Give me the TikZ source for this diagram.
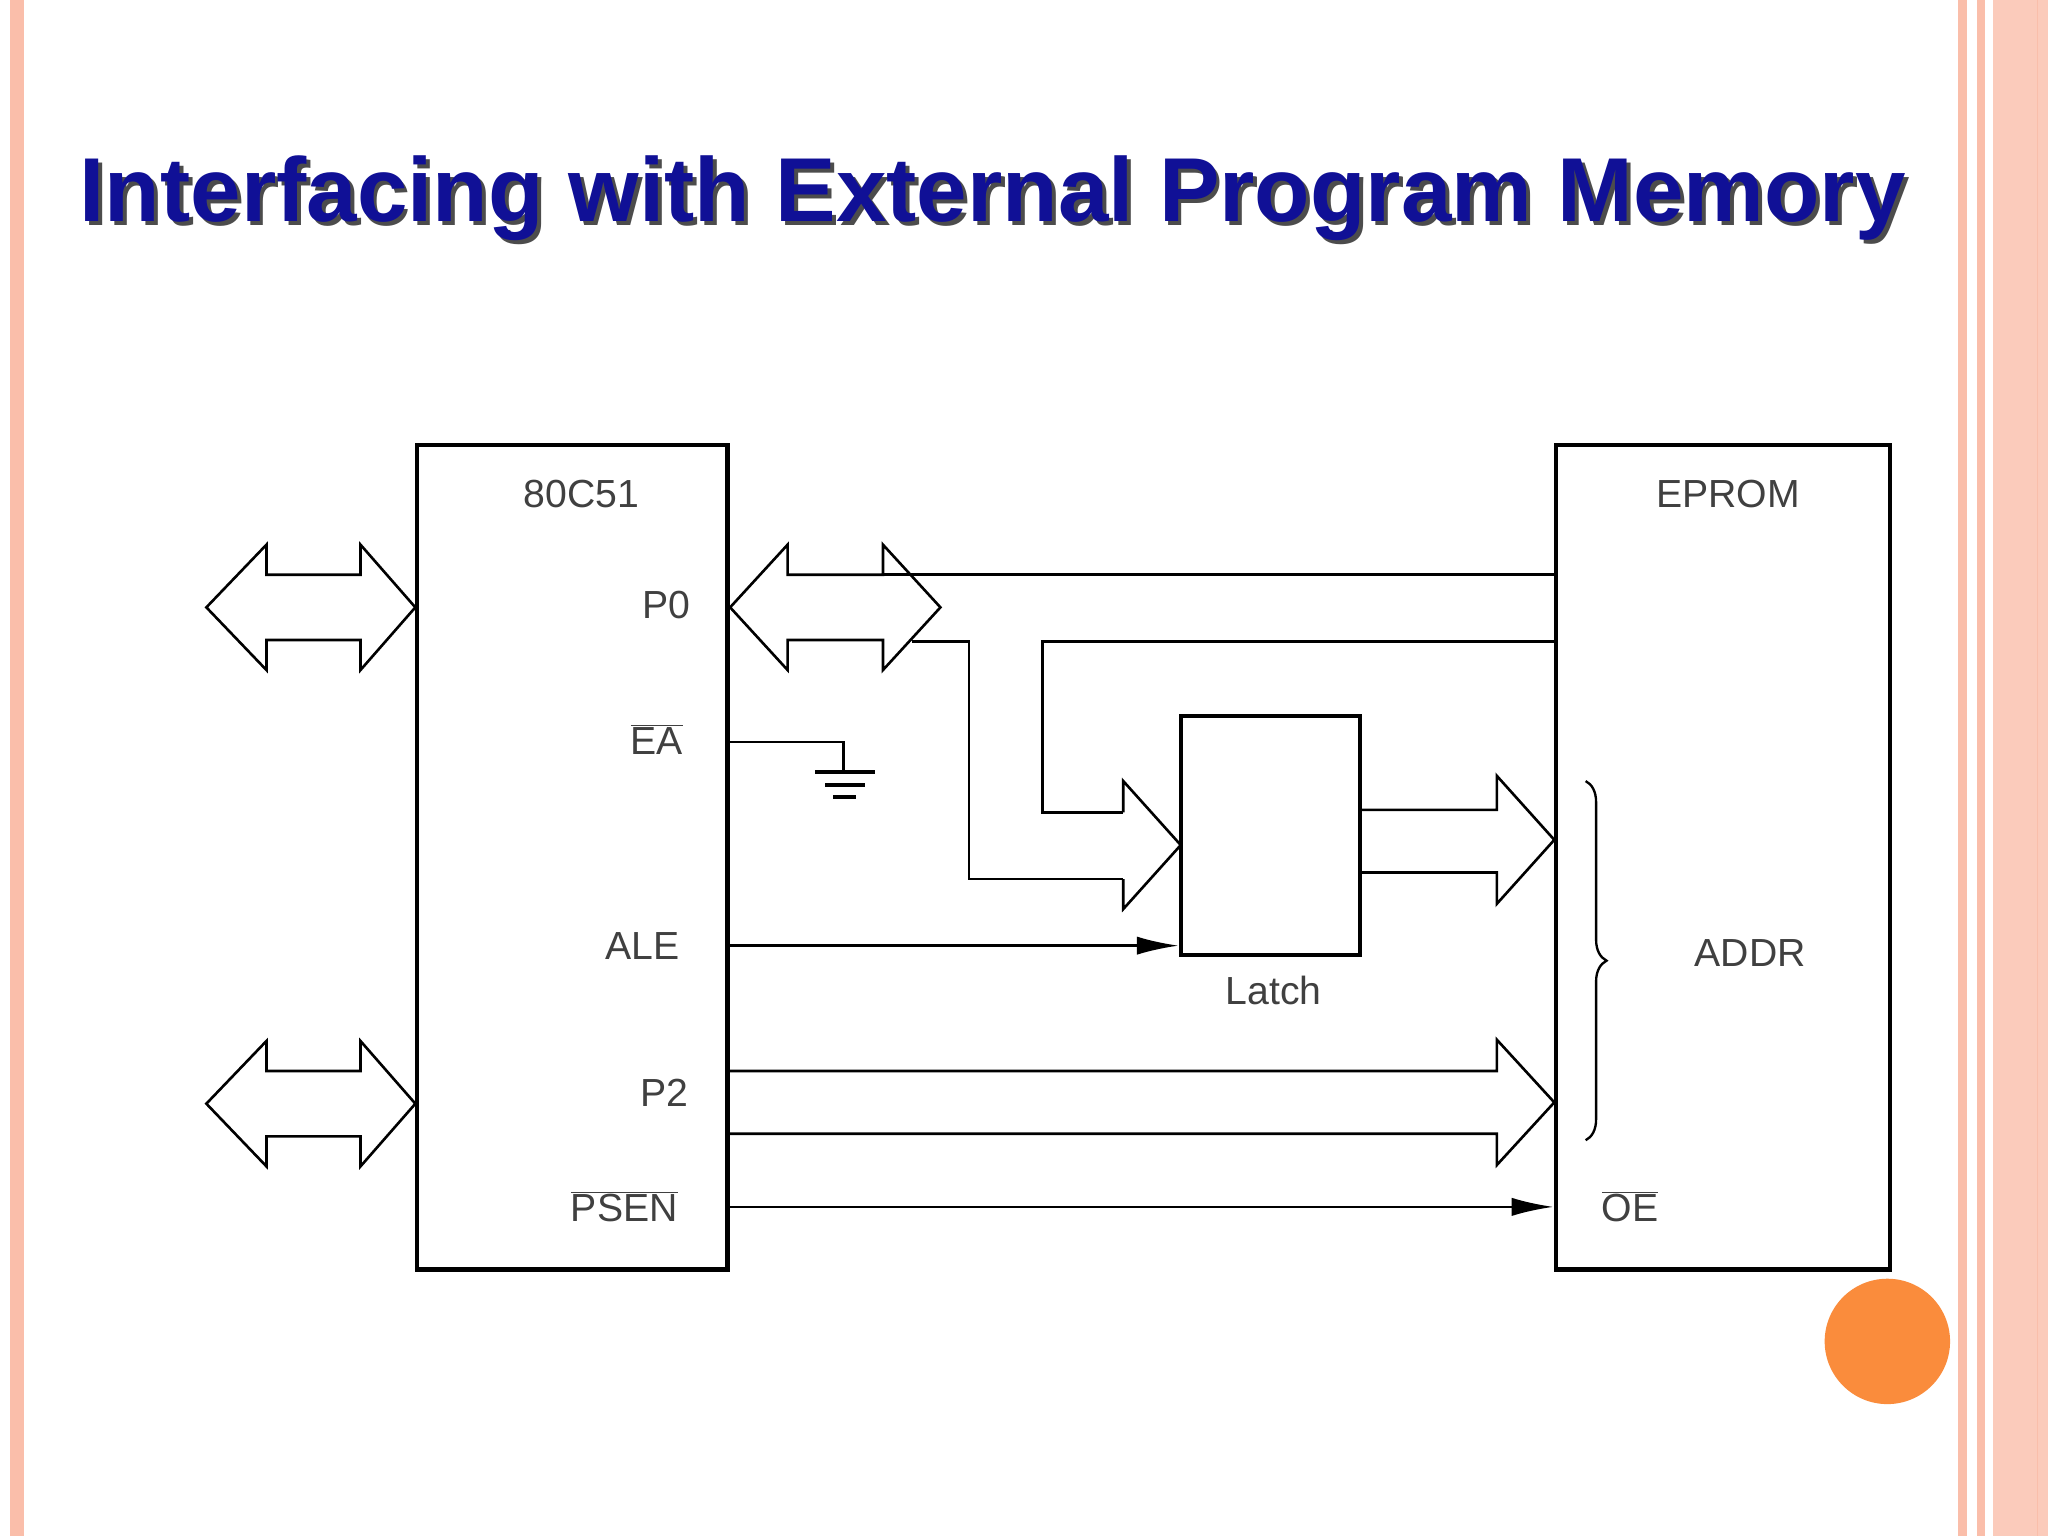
\documentclass[tikz,border=0pt]{standalone}
\usepackage{fontspec}
\setmainfont{Liberation Sans}
\usetikzlibrary{decorations.pathreplacing,arrows.meta}
\definecolor{titleblue}{RGB}{16,16,150}
\definecolor{dotorange}{RGB}{250,140,60}
\definecolor{stripe}{RGB}{250,190,170}
\begin{document}
\begin{tikzpicture}[x=1pt,y=-1pt,
  box/.style={draw,line width=3.2pt,inner sep=0pt},
  lbl/.style={font=\fontsize{30}{32}\selectfont,text=black!75,inner sep=0pt},
  wire/.style={line width=2pt},
  hol/.style={line width=2pt,line join=miter},
  tip/.style={-{Latex[length=32pt,width=14pt]}},
  ttl/.style={font=\bfseries\fontsize{69.5}{76}\selectfont,inner sep=0pt}]
\useasboundingbox (0,0) rectangle (1568,1176);
\fill[white] (0,0) rectangle (1568,1176);
\fill[stripe] (8,0) rectangle (18,1176);
\fill[stripe] (1499,0) rectangle (1506,1176);
\fill[stripe] (1514,0) rectangle (1520,1176);
\fill[stripe!80] (1526,0) rectangle (1568,1176);
\draw[stripe,line width=1pt] (1560,0)--(1560,1176);
% title
\node[ttl,text=black!70] at (763,155) {Interfacing with External Program Memory};
\node[ttl,text=titleblue] (title) at (760,152) {Interfacing with External Program Memory};
% boxes
\node[box,minimum width=238pt,minimum height=631pt] (cpu) at (438,656.5) {};
\node[box,minimum width=256pt,minimum height=631pt] (rom) at (1319,656.5) {};
\node[box,minimum width=137pt,minimum height=183pt] (latch) at (972.5,639.5) {};
% labels
\node[lbl] (l80) at (445,378) {80C51};
\node[lbl] (lp0) at (510,463) {P0};
\node[lbl] (lea) at (503,566) {$\overline{\mbox{EA}}$};
\node[lbl] (lale) at (492,724) {ALE};
\node[lbl] (lp2) at (509,837) {P2};
\node[lbl] (lpsen) at (478,924) {$\overline{\mbox{PSEN}}$};
\node[lbl] (lep) at (1323,378) {EPROM};
\node[lbl] (laddr) at (1340,730) {ADDR};
\node[lbl] (loe) at (1248,924) {$\overline{\mbox{OE}}$};
\node[lbl] (llatch) at (975,758) {Latch};
% left double arrows
\draw[hol] (158,465)--(204,417)--(204,440)--(276,440)--(276,417)--(318,465)--(276,513)--(276,490)--(204,490)--(204,513)--cycle;
\draw[hol] (158,845)--(204,797)--(204,820)--(276,820)--(276,797)--(318,845)--(276,893)--(276,870)--(204,870)--(204,893)--cycle;
% P0 double arrow
\draw[hol] (676,440)--(676,417)--(720,465)--(676,513)--(676,490)--(603,490)--(603,513)--(559,465)--(603,417)--(603,440)--cycle;
\coordinate (p0a) at (676,440);
\draw[wire] (p0a)--(1191,440);
\draw[wire] (698,491)--(742,491)--(742,673)--(860,673);
\draw[wire] (1191,491)--(798,491)--(798,622)--(860,622);
\draw[hol] (860,622)--(860,598)--(904,647)--(860,696)--(860,673);
% latch output
\draw[hol] (1041,620)--(1146,620)--(1146,594)--(1190,643)--(1146,692)--(1146,668)--(1041,668);
% P2
\draw[hol] (558,820)--(1146,820)--(1146,796)--(1190,844)--(1146,892)--(1146,868)--(558,868);
% ALE, PSEN
\draw[wire,tip] (558,724)--(latch.west|-0,724);
\draw[wire,tip] (558,924)--(rom.west|-0,924);
% EA ground
\draw[wire] (558,568)--(646,568)--(646,590);
\draw[line width=3pt] (624,591)--(670,591) (632,601)--(662,601) (638,610)--(655,610);
% brace
\draw[line width=1.8pt,decorate,decoration={brace,amplitude=16pt,aspect=0.5}] (1214,598)--(1214,873);
% orange circle
\fill[dotorange] (1445,1027) circle (48);
\end{tikzpicture}
\end{document}
